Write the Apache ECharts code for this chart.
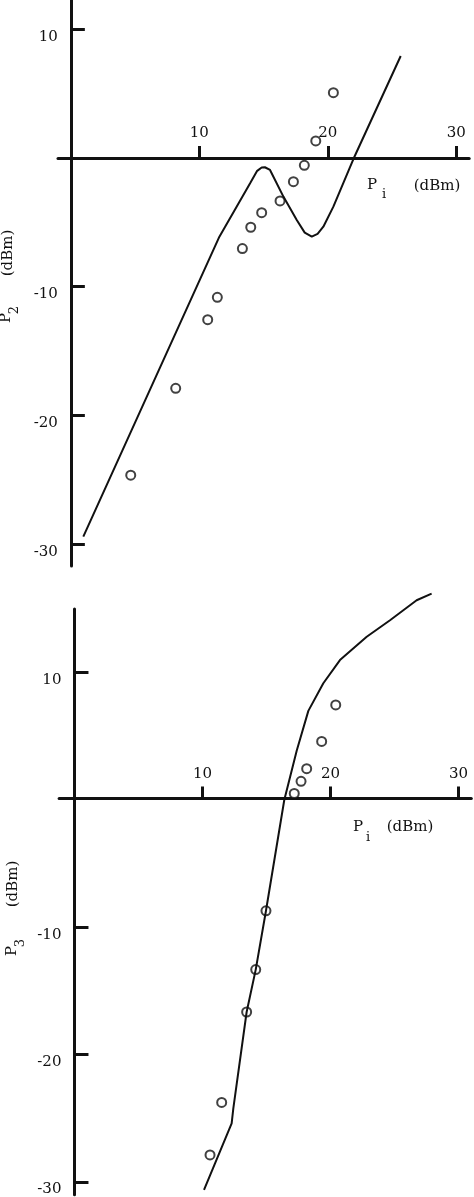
<!DOCTYPE html>
<html>
<head>
<meta charset="utf-8">
<title>P2 and P3 versus Pi</title>
<script src="https://cdn.jsdelivr.net/npm/echarts@6/dist/echarts.min.js"></script>
<style>
  html, body { margin: 0; padding: 0; background: #fff; }
  #chart { width: 474px; height: 1197px; }
</style>
</head>
<body>
<div id="chart"></div>
<script>
// tick values shown on the axes
const xTicks = [10, 20, 30]
const yTicks = [-30, -20, -10, 10]

// upper panel: P2 (dBm) vs Pi (dBm), computed curve
const p2CurveX = [0.97, 11.56, 13.95, 14.5, 14.85, 15.1, 15.5, 16.54, 17.58, 18.2, 18.75, 19.2, 19.65, 20.43, 21.98, 25.67]
const p2CurveY = [-29.41, -6.11, -1.97, -1.0, -0.74, -0.72, -0.93, -3.0, -4.82, -5.8, -6.11, -5.9, -5.34, -3.78, -0.1, 7.92]
// upper panel: measured points
const p2PointX = [4.66, 8.16, 10.65, 11.4, 13.35, 14.0, 14.85, 16.28, 17.32, 18.17, 19.06, 20.43]
const p2PointY = [-24.64, -17.89, -12.56, -10.82, -7.04, -5.38, -4.25, -3.34, -1.84, -0.57, 1.32, 5.07]

// lower panel: P3 (dBm) vs Pi (dBm), computed curve
const p3CurveX = [10.12, 12.28, 12.41, 13.45, 14.16, 14.96, 16.39, 17.36, 18.27, 19.44, 20.74, 22.83, 24.65, 26.73, 27.9]
const p3CurveY = [-30.61, -25.39, -24.22, -16.65, -13.32, -8.7, 0, 3.87, 7.0, 9.17, 10.99, 12.82, 14.12, 15.69, 16.21]
// lower panel: measured points
const p3PointX = [10.59, 11.5, 13.45, 14.16, 14.96, 17.17, 17.7, 18.14, 19.31, 20.41]
const p3PointY = [-27.87, -23.75, -16.65, -13.32, -8.7, 0.51, 1.47, 2.46, 4.6, 7.47]

const font = 'DejaVu Serif'
const ink = '#111'

// panel frames (px) and axis ranges; axes cross at the origin
const panels = [
  { left: 58, top: 0, width: 411.2, height: 566, xMin: -1, xMax: 31, yMin: -31.69, yMax: 12.27 },
  { left: 59.1, top: 609, width: 412.2, height: 588, xMin: -1.2, xMax: 31, yMin: -31.0, yMax: 15 }
]

function zip(xs, ys) {
  return xs.map((x, i) => [x, ys[i]])
}

// distance from the frame edge to the zero line, so the axis sits on the origin
function zeroShift(p) {
  return {
    x: -p.height * (0 - p.yMin) / (p.yMax - p.yMin),
    y: -p.width * (0 - p.xMin) / (p.xMax - p.xMin)
  }
}

function makeX(i) {
  const p = panels[i]
  return {
    type: 'value',
    gridIndex: i,
    min: p.xMin,
    max: p.xMax,
    offset: zeroShift(p).x,
    axisLine: { onZero: false, lineStyle: { color: ink, width: 3 } },
    axisTick: { inside: true, length: 12, customValues: xTicks, lineStyle: { color: ink, width: 3 } },
    axisLabel: { inside: true, margin: 17, customValues: xTicks, color: ink, fontFamily: font, fontSize: 15 },
    splitLine: { show: false }
  }
}

function makeY(i) {
  const p = panels[i]
  return {
    type: 'value',
    gridIndex: i,
    min: p.yMin,
    max: p.yMax,
    offset: zeroShift(p).y,
    axisLine: { onZero: false, lineStyle: { color: ink, width: 3 } },
    axisTick: { inside: true, length: 14, customValues: yTicks, lineStyle: { color: ink, width: 3 } },
    axisLabel: { margin: 13, verticalAlign: 'top', customValues: yTicks, color: ink, fontFamily: font, fontSize: 15 },
    splitLine: { show: false }
  }
}

function curve(idx, xs, ys) {
  return {
    type: 'line',
    xAxisIndex: idx,
    yAxisIndex: idx,
    data: zip(xs, ys),
    showSymbol: false,
    clip: false,
    lineStyle: { color: ink, width: 2 },
    animation: false
  }
}

function points(idx, xs, ys) {
  return {
    type: 'scatter',
    xAxisIndex: idx,
    yAxisIndex: idx,
    data: zip(xs, ys),
    symbol: 'emptyCircle',
    symbolSize: 9,
    clip: false,
    itemStyle: { color: ink, borderWidth: 2 },
    animation: false
  }
}

// small text helper for the axis titles
function txt(text, x, y, size, rot) {
  return {
    type: 'text',
    x: x,
    y: y,
    rotation: rot || 0,
    style: { text: text, fill: ink, font: size + 'px "' + font + '"', align: 'center', verticalAlign: 'middle' }
  }
}

const chart = echarts.init(document.getElementById('chart'))
chart.setOption({
  backgroundColor: '#fff',
  grid: panels.map((p) => ({ left: p.left, top: p.top, width: p.width, height: p.height })),
  xAxis: [makeX(0), makeX(1)],
  yAxis: [makeY(0), makeY(1)],
  series: [
    curve(0, p2CurveX, p2CurveY),
    points(0, p2PointX, p2PointY),
    curve(1, p3CurveX, p3CurveY),
    points(1, p3PointX, p3PointY)
  ],
  graphic: [
    // upper x title
    txt('P', 372, 185, 15),
    txt('i', 384, 195, 13),
    txt('(dBm)', 437, 186, 15),
    // upper y title
    txt('P', 6, 318, 15, Math.PI / 2),
    txt('2', 15, 310, 13, Math.PI / 2),
    txt('(dBm)', 8, 253, 15, Math.PI / 2),
    // lower x title
    txt('P', 358, 827, 15),
    txt('i', 368, 838, 13),
    txt('(dBm)', 410, 827, 15),
    // lower y title
    txt('P', 12, 951, 15, Math.PI / 2),
    txt('3', 21, 943, 13, Math.PI / 2),
    txt('(dBm)', 13, 884, 15, Math.PI / 2)
  ]
})
</script>
</body>
</html>
